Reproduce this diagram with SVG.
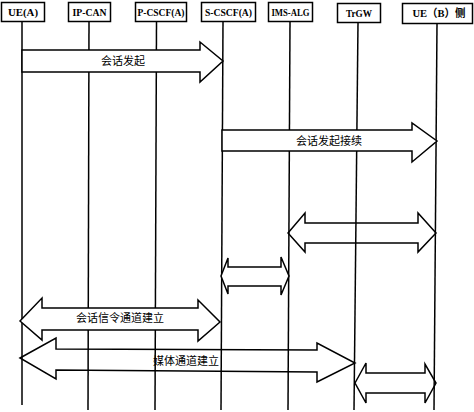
<svg xmlns="http://www.w3.org/2000/svg" width="474" height="412" viewBox="0 0 474 412">
<style>
.box{fill:#fff;stroke:#000;stroke-width:1.5}
.life{stroke:#000;stroke-width:1.5;fill:none}
.lbl{font-family:"Liberation Serif","Noto Sans CJK SC",serif;font-weight:bold;font-size:11px;fill:#000;text-anchor:middle}
.arr{stroke:#000;stroke-width:1.5;stroke-linejoin:miter}
.filled{fill:#fff}
.open{fill:none}
.msg{font-family:"Noto Sans CJK SC","Noto Sans CJK JP",sans-serif;font-size:11px;fill:#000;text-anchor:middle}
</style>
<rect width="474" height="412" fill="#fff"/>
<g id="node-ue-a"><rect class="box" x="1.5" y="2.5" width="43" height="19"/><text class="lbl" x="23" y="15.5" textLength="30" lengthAdjust="spacingAndGlyphs">UE(A)</text><line class="life" x1="22" y1="21.5" x2="22" y2="405"/></g>
<g id="node-ip-can"><rect class="box" x="68.5" y="2.5" width="42" height="19"/><text class="lbl" x="89.5" y="15.5" textLength="34" lengthAdjust="spacingAndGlyphs">IP-CAN</text><line class="life" x1="89" y1="21.5" x2="88" y2="410"/></g>
<g id="node-p-cscf"><rect class="box" x="135.5" y="2.5" width="51" height="19"/><text class="lbl" x="161" y="15.5" textLength="47" lengthAdjust="spacingAndGlyphs">P-CSCF(A)</text><line class="life" x1="156.5" y1="21.5" x2="155" y2="410"/></g>
<g id="node-s-cscf"><rect class="box" x="201.5" y="2.5" width="54" height="19"/><text class="lbl" x="228.5" y="15.5" textLength="47" lengthAdjust="spacingAndGlyphs">S-CSCF(A)</text><line class="life" x1="223" y1="21.5" x2="221" y2="410"/></g>
<g id="node-ims-alg"><rect class="box" x="268.5" y="2.5" width="44" height="19"/><text class="lbl" x="290.5" y="15.5" textLength="38" lengthAdjust="spacingAndGlyphs">IMS-ALG</text><line class="life" x1="290" y1="21.5" x2="288" y2="410"/></g>
<g id="node-trgw"><rect class="box" x="337.5" y="3.5" width="43" height="19"/><text class="lbl" x="359" y="16.5" textLength="26" lengthAdjust="spacingAndGlyphs">TrGW</text><line class="life" x1="358" y1="22.5" x2="354" y2="410"/></g>
<g id="node-ue-b"><rect class="box" x="402.5" y="3.5" width="70" height="20"/><text class="lbl" x="439" y="17" textLength="53" lengthAdjust="spacingAndGlyphs">UE（B）侧</text><line class="life" x1="437" y1="23.5" x2="434" y2="410"/></g>
<g id="connectors">
<g id="c1"><path class="arr filled" d="M22,50 L200,50 L200,42 L223,61 L200,82 L200,72 L22,72 Z"/><text class="msg" x="123" y="65">会话发起</text></g>
<g id="c2"><path class="arr filled" d="M222,130 L412,130 L412,123 L437,141 L412,162 L412,151 L222,151 Z"/><text class="msg" x="329" y="145">会话发起接续</text></g>
<g id="c3"><path class="arr open" d="M288,233 L305,213 L305,223 L418,223 L418,213 L436,233 L418,252 L418,243 L305,243 L305,252 Z"/></g>
<g id="c4"><path class="arr filled" d="M221,276 L228,258 L228,267 L281,267 L281,257 L289,276 L281,295 L281,286 L228,286 L228,294 Z"/></g>
<g id="c5"><path class="arr filled" d="M20,321 L42,298 L42,308 L198,308 L198,300 L220,322 L198,341 L198,330 L42,330 L42,340 Z"/><text class="msg" x="120" y="322">会话信令通道建立</text></g>
<g id="c6"><path class="arr open" d="M20,358 L56,338 L56,349 L317,350 L317,343 L355,363 L317,382 L317,372 L56,370 L56,379 Z"/><text class="msg" x="186" y="365">媒体通道建立</text></g>
<g id="c7"><path class="arr open" d="M355,383 L366,363 L366,373 L425,373 L425,364 L436,383 L425,403 L425,393 L366,393 L366,403 Z"/></g>
</g>
</svg>
